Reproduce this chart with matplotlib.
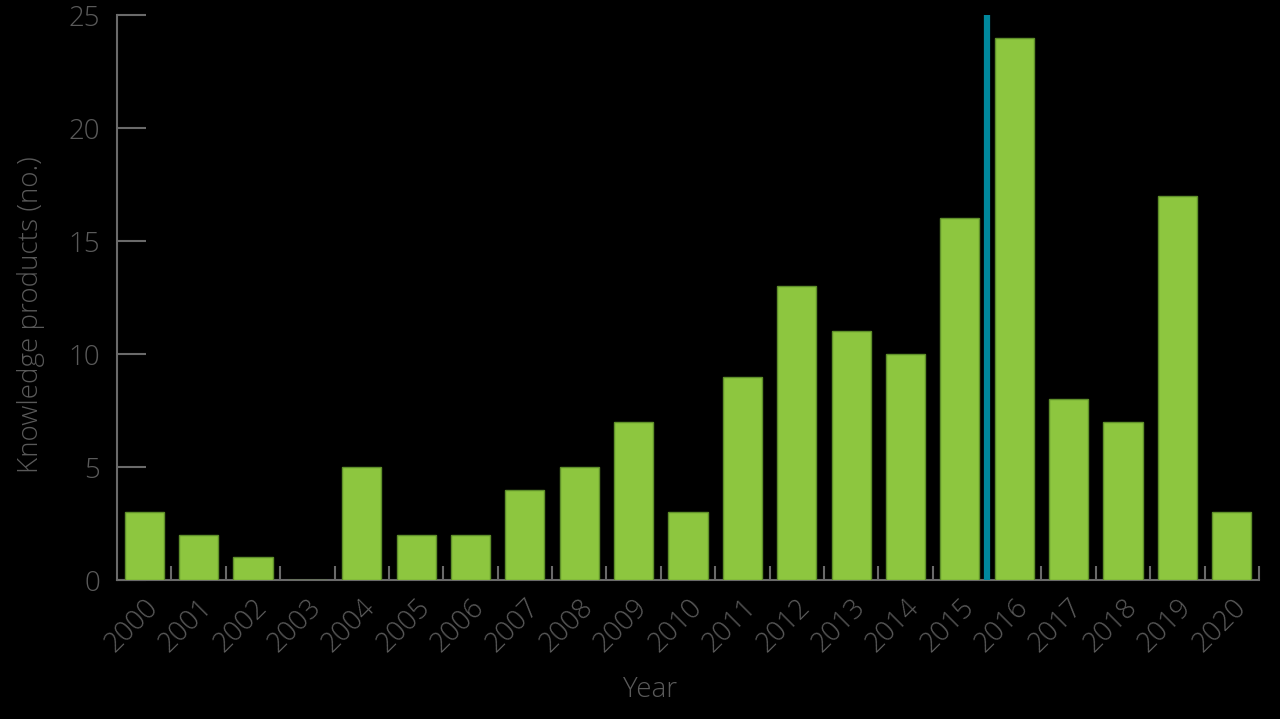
import matplotlib
matplotlib.use("Agg")
import matplotlib.pyplot as plt
import numpy as np

# data
years = [str(y) for y in range(2000, 2021)]
counts = [3, 2, 1, 0, 5, 2, 2, 4, 5, 7, 3, 9, 13, 11, 10, 16, 24, 8, 7, 17, 3]
y_ticks = [0, 5, 10, 15, 20, 25]
marker_year = 15.5  # line between 2015 and 2016

TEXT = "#5a5a5a"
AXIS = "#6a6a6a"
GREEN = "#8dc63f"
EDGE = "#5f8f2a"
TEAL = "#00879c"
FS = 20

plt.rcParams['font.family'] = ['Open Sans', 'DejaVu Sans']

fig = plt.figure(figsize=(12.8, 7.19), dpi=100, facecolor="black")
ax = fig.add_axes([0.0914, 0.1933, 0.8922, 0.7858], facecolor="black")

x = np.arange(len(years))
ax.bar(x, counts, width=0.72, color=GREEN, edgecolor=EDGE, linewidth=1, zorder=3)
ax.plot([marker_year, marker_year], [0, 25], color=TEAL, linewidth=4.5, zorder=4)

ax.set_xlim(-0.5, len(years) - 0.5)
ax.set_ylim(0, 25)

for side in ("top", "right"):
    ax.spines[side].set_visible(False)
for side in ("left", "bottom"):
    ax.spines[side].set_color(AXIS)
    ax.spines[side].set_linewidth(1.5)

ax.set_yticks(y_ticks)
ax.tick_params(axis="y", direction="in", length=21, width=1.5, color=AXIS,
               labelcolor=TEXT, labelsize=FS, pad=12)
for lab in ax.get_yticklabels():
    lab.set_fontweight("light")

ax.set_xticks(x)
ax.set_xticklabels(years, rotation=45, ha="right", rotation_mode="anchor",
                   fontsize=FS, color=TEXT, fontweight="light")
ax.tick_params(axis="x", which="major", length=0, pad=10)
ax.set_xticks(np.arange(0.5, len(years)), minor=True)
ax.tick_params(axis="x", which="minor", direction="in", length=10, width=1.5, color=AXIS)

ax.set_ylabel("Knowledge products (no.)", fontsize=FS, color=TEXT, fontweight="light")
ax.yaxis.set_label_coords(-0.063, 0.47)
fig.text(0.508, 0.04, "Year", fontsize=FS, color=TEXT, fontweight="light",
         ha="center", va="center")

fig.savefig("out.png", dpi=100, facecolor="black")
